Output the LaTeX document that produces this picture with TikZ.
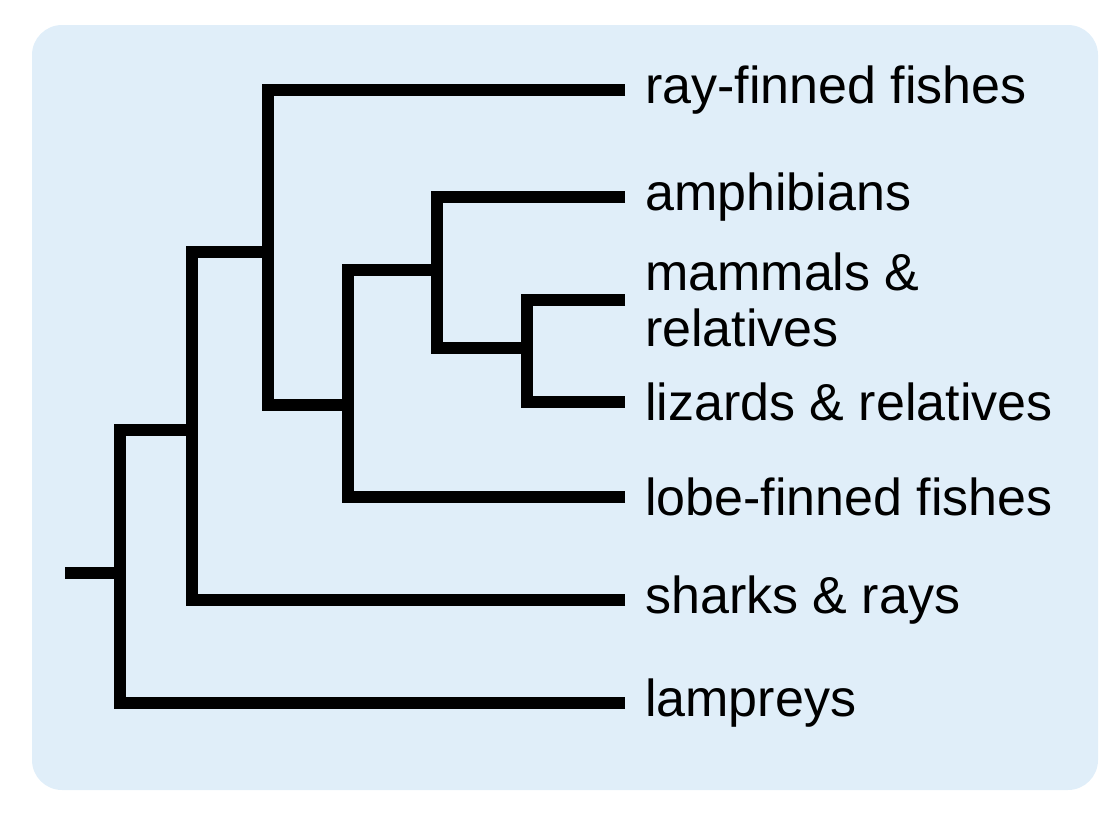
\documentclass[tikz,border=0pt]{standalone}
\usepackage{fontspec}
\setmainfont{Liberation Sans}
\begin{document}
\begin{tikzpicture}[x=1pt,y=-1pt,
  br/.style={line width=12pt,line join=miter,line cap=butt},
  lab/.style={anchor=west,font=\fontsize{52}{56}\selectfont,inner sep=0pt,align=left}]
\useasboundingbox (0,0) rectangle (1116,814);
\fill[fill={rgb,255:red,224;green,238;blue,249},rounded corners=30pt] (32,25) rectangle (1098,790);
% tips
\coordinate (t1) at (625,90);
\coordinate (t2) at (625,197);
\coordinate (t3) at (625,300);
\coordinate (t4) at (625,402);
\coordinate (t5) at (625,497);
\coordinate (t6) at (625,600);
\coordinate (t7) at (625,703);
% internal nodes
\coordinate (n1) at (120,573);
\coordinate (r) at (65,573);
\coordinate (n2) at (192,430);
\coordinate (n3) at (268,252);
\coordinate (n4) at (348,405);
\coordinate (n5) at (437,270);
\coordinate (n6) at (527,348);
\draw[br] (r) -- (n1);
\draw[br] (t7) -| (n1) |- (n2);
\draw[br] (t6) -| (n2) |- (n3);
\draw[br] (t1) -| (n3) |- (n4);
\draw[br] (t5) -| (n4) |- (n5);
\draw[br] (t2) -| (n5) |- (n6);
\draw[br] (t3) -| (n6) |- (t4);
% labels
\node[lab] (l1) at (645,90) {ray-finned fishes};
\node[lab] (l2) at (645,197) {amphibians};
\node[lab] (l3) at (645,300) {mammals \&\\relatives};
\node[lab] (l4) at (645,402) {lizards \& relatives};
\node[lab] (l5) at (645,497) {lobe-finned fishes};
\node[lab] (l6) at (645,600) {sharks \& rays};
\node[lab] (l7) at (645,703) {lampreys};
\end{tikzpicture}
\end{document}
